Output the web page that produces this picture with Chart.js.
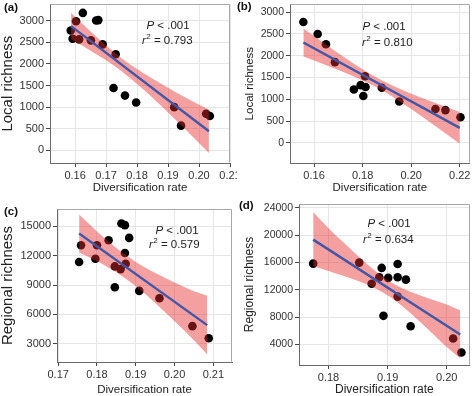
<!DOCTYPE html>
<html><head><meta charset="utf-8">
<script src="https://cdn.jsdelivr.net/npm/chart.js@4.4.0/dist/chart.umd.min.js"></script>
<style>
html,body{margin:0;padding:0;background:#fff;}
body{width:474px;height:396px;position:relative;overflow:hidden;}
.p{position:absolute;width:237px;height:198px;}
canvas{display:block;}
</style></head><body>
<div class="p" style="left:0;top:0"><canvas id="ca" width="237" height="198"></canvas></div>
<div class="p" style="left:237px;top:0"><canvas id="cb" width="237" height="198"></canvas></div>
<div class="p" style="left:0;top:198px"><canvas id="cc" width="237" height="198"></canvas></div>
<div class="p" style="left:237px;top:198px"><canvas id="cd" width="237" height="198"></canvas></div>
<script>
// ---------- Panel (a): local richness vs diversification rate ----------
const aRate   = [0.1625,0.1668,0.1675,0.1603,0.1586,0.1592,0.1613,0.1651,0.1689,0.1731,0.1724,0.1761,0.1797,0.1920,0.1942,0.2023,0.2035];
const aLocal  = [3176,3000,3010,2985,2771,2580,2565,2542,2450,2221,1443,1267,1107,1000,573,847,794];
const aFitRate = [0.1587,0.2032];
const aFitLocal = [2870,443];
const aBandRate  = [0.1587,0.165,0.17,0.175,0.18,0.185,0.19,0.195,0.2032];
const aBandUpper = [3175,2747,2425,2131,1879,1657,1450,1248,943];
const aBandLower = [2565,2305,2083,1831,1537,1215,876,532,-57];
const aXTicks = [0.16,0.17,0.18,0.19,0.20,0.21];
const aYTicks = [0,500,1000,1500,2000,2500,3000];

// ---------- Panel (b): local richness vs diversification rate ----------
const bRate   = [0.1556,0.1615,0.1649,0.1686,0.1764,0.1792,0.1812,0.1810,0.1803,0.1879,0.1951,0.2100,0.2141,0.2203];
const bLocal  = [2774,2500,2266,1854,1228,1326,1282,1531,1077,1267,950,777,754,588];
const bFitRate = [0.1556,0.2200];
const bFitLocal = [2306,345];
const bBandRate  = [0.1556,0.165,0.175,0.185,0.195,0.205,0.2200];
const bBandUpper = [2626,2255,1870,1523,1247,1020,710];
const bBandLower = [1986,1785,1560,1299,965,584,-20];
const bXTicks = [0.16,0.18,0.20,0.22];
const bYTicks = [0,500,1000,1500,2000,2500,3000];

// ---------- Panel (c): regional richness vs diversification rate ----------
const cRate     = [0.1754,0.1759,0.1796,0.1800,0.1830,0.1846,0.1846,0.1861,0.1863,0.1872,0.1872,0.1874,0.1883,0.1909,0.1961,0.2046,0.2088];
const cRegional = [11340,13050,11682,13050,13563,10895,8774,10621,15274,15103,12263,11169,13803,8398,7645,4806,3575];
const cFitRate = [0.1754,0.2084];
const cFitRegional = [14247,4909];
const cBandRate  = [0.1754,0.18,0.1825,0.185,0.1875,0.19,0.1925,0.195,0.2,0.205,0.2084];
const cBandUpper = [16177,14468,13591,12770,12023,11356,10761,10224,9256,8365,7909];
const cBandLower = [12317,11422,10885,10290,9623,8876,8055,7178,5316,3377,1909];
const cXTicks = [0.17,0.18,0.19,0.20,0.21];
const cYTicks = [3000,6000,9000,12000,15000];

// ---------- Panel (d): regional richness vs diversification rate ----------
const dRate     = [0.1774,0.1852,0.1873,0.1890,0.1886,0.1901,0.1917,0.1917,0.1931,0.1917,0.1893,0.1939,0.2011,0.2025];
const dRegional = [15854,16000,12900,15220,13850,13760,15800,13850,13500,11020,8200,6680,4880,2830];
const dFitRate = [0.1774,0.2023];
const dFitRegional = [19366,5463];
const dBandRate  = [0.1774,0.18,0.1825,0.185,0.1875,0.19,0.1925,0.195,0.1975,0.2,0.2023];
const dBandUpper = [23400,21041,18975,16953,15048,13431,12256,11369,10599,9874,9000];
const dBandLower = [15500,14787,14063,13293,12406,11231,9614,7709,5687,3620,2000];
const dXTicks = [0.18,0.19,0.20];
const dYTicks = [4000,8000,12000,16000,20000,24000];

// ---------- text ----------
const xTitle = 'Diversification rate';
const pText = ' < .001';
const panels = [
  {id:'ca', tag:'(a)', yTitle:'Local richness', r2:'0.793',
   x:aRate, y:aLocal, fx:aFitRate, fy:aFitLocal, bx:aBandRate, bu:aBandUpper, bl:aBandLower, xt:aXTicks, yt:aYTicks,
   xmin:0.1519, xmax:0.2100, ymin:-290, ymax:3375,
   area:{l:50,r:230,t:3,b:163}, tickFont:11, yTickFont:11, yTitleSize:15, yTitlePad:0.5, xTitleSize:11.5, xTitlePad:4,
   tagPos:[4,8], ann:[168,26,167,41]},
  {id:'cb', tag:'(b)', yTitle:'Local richness', r2:'0.810',
   x:bRate, y:bLocal, fx:bFitRate, fy:bFitLocal, bx:bBandRate, bu:bBandUpper, bl:bBandLower, xt:bXTicks, yt:bYTicks,
   xmin:0.1501, xmax:0.2241, ymin:-460, ymax:3181,
   area:{l:53,r:233,t:2,b:163}, tickFont:11, yTickFont:10.5, yTitleSize:11.5, yTitlePad:7.5, xTitleSize:11.5, xTitlePad:4,
   tagPos:[0,7], ann:[147,27,150,43]},
  {id:'cc', tag:'(c)', yTitle:'Regional richness', r2:'0.579',
   x:cRate, y:cRegional, fx:cFitRate, fy:cFitRegional, bx:cBandRate, bu:cBandUpper, bl:cBandLower, xt:cXTicks, yt:cYTicks,
   xmin:0.1697, xmax:0.2148, ymin:1150, ymax:16750,
   area:{l:57,r:232,t:11,b:164}, tickFont:11, yTickFont:11, yTitleSize:15, yTitlePad:0.5, xTitleSize:11.5, xTitlePad:0,
   tagPos:[4,14], ann:[177,33,174,47]},
  {id:'cd', tag:'(d)', yTitle:'Regional richness', r2:'0.634',
   x:dRate, y:dRegional, fx:dFitRate, fy:dFitRegional, bx:dBandRate, bu:dBandUpper, bl:dBandLower, xt:dXTicks, yt:dYTicks,
   xmin:0.1750, xmax:0.2039, ymin:996, ymax:24586,
   area:{l:62,r:233,t:6,b:167}, tickFont:11, yTickFont:10.5, yTitleSize:12, yTitlePad:7, xTitleSize:12, xTitlePad:0,
   tagPos:[2,8], ann:[152,26,151,42]}
];

const FONT = "'Liberation Sans', Arial, Helvetica, sans-serif";
const RIBBON = 'rgba(232,45,45,0.45)';
const FITLINE = '#4357A8';

function drawAnn(ctx, p) {
  const size = 11.5;
  const [px, py, rx, ry] = p.ann;
  ctx.save();
  ctx.fillStyle = '#222';
  ctx.textBaseline = 'middle';
  ctx.textAlign = 'left';
  ctx.font = 'italic ' + size + 'px ' + FONT;
  const wP = ctx.measureText('P').width;
  ctx.font = size + 'px ' + FONT;
  const wRest = ctx.measureText(pText).width;
  let x0 = px - (wP + wRest) / 2;
  ctx.font = 'italic ' + size + 'px ' + FONT;
  ctx.fillText('P', x0, py);
  ctx.font = size + 'px ' + FONT;
  ctx.fillText(pText, x0 + wP, py);
  ctx.font = 'italic ' + size + 'px ' + FONT;
  const wr = ctx.measureText('r').width;
  ctx.font = (size * 0.7) + 'px ' + FONT;
  const w2 = ctx.measureText('2').width;
  ctx.font = size + 'px ' + FONT;
  const rest = ' = ' + p.r2;
  const wv = ctx.measureText(rest).width;
  x0 = rx - (wr + w2 + wv) / 2;
  ctx.font = 'italic ' + size + 'px ' + FONT;
  ctx.fillText('r', x0, ry);
  ctx.font = (size * 0.7) + 'px ' + FONT;
  ctx.fillText('2', x0 + wr + 0.5, ry - 4.5);
  ctx.font = size + 'px ' + FONT;
  ctx.fillText(rest, x0 + wr + w2 + 0.5, ry);
  ctx.font = 'bold 11.5px ' + FONT;
  ctx.fillStyle = '#111';
  ctx.fillText(p.tag, p.tagPos[0], p.tagPos[1]);
  ctx.restore();
}

function makeChart(p) {
  const W = 237, H = 198;
  const pts = p.x.map((v, i) => ({x: v, y: p.y[i]}));
  const up = p.bx.map((v, i) => ({x: v, y: p.bu[i]}));
  const lo = p.bx.map((v, i) => ({x: v, y: p.bl[i]}));
  const fit = p.fx.map((v, i) => ({x: v, y: p.fy[i]}));
  const zeroPad = s => { s.paddingLeft = 0; s.paddingRight = 0; s.paddingTop = 0; s.paddingBottom = 0; };
  const frame = {
    id: 'frame',
    afterDraw(chart) {
      const ctx = chart.ctx, a = chart.chartArea;
      ctx.save();
      ctx.strokeStyle = '#A8A8A8';
      ctx.lineWidth = 1;
      ctx.beginPath();
      const L = Math.round(a.left) + 0.5, R = Math.round(a.right) - 0.5, T = Math.round(a.top) + 0.5, B = Math.round(a.bottom) - 0.5;
      ctx.moveTo(L, T); ctx.lineTo(R, T); ctx.lineTo(R, B);
      ctx.stroke();
      ctx.restore();
      drawAnn(ctx, p);
    }
  };
  return new Chart(document.getElementById(p.id), {
    type: 'line',
    data: {
      datasets: [
        {data: pts, showLine: false, pointRadius: 4.3, pointBackgroundColor: '#000', pointBorderWidth: 0, pointBorderColor: '#000', order: 3},
        {data: up, pointRadius: 0, borderWidth: 0, borderColor: 'rgba(0,0,0,0)', backgroundColor: RIBBON, fill: '+1', cubicInterpolationMode: 'monotone', order: 2},
        {data: lo, pointRadius: 0, borderWidth: 0, borderColor: 'rgba(0,0,0,0)', fill: false, cubicInterpolationMode: 'monotone', order: 2},
        {data: fit, pointRadius: 0, borderWidth: 2.4, borderColor: FITLINE, fill: false, order: 1}
      ]
    },
    options: {
      responsive: false,
      animation: false,
      devicePixelRatio: 1,
      events: [],
      layout: {padding: {left: 0, right: W - p.area.r, top: p.area.t, bottom: 0}},
      plugins: {legend: {display: false}, tooltip: {enabled: false}, filler: {drawTime: 'beforeDatasetDraw'}},
      scales: {
        x: {
          type: 'linear', min: p.xmin, max: p.xmax,
          grid: {color: '#E6E6E6', tickColor: '#444', tickLength: 4, lineWidth: 1},
          border: {color: '#6A6A6A', width: 1},
          ticks: {autoSkip: false, maxRotation: 0, padding: 2, color: '#333',
                  font: {family: FONT, size: p.tickFont}, callback: v => v.toFixed(2)},
          afterBuildTicks: s => { s.ticks = p.xt.map(v => ({value: v})); },
          title: {display: true, text: xTitle, color: '#222', font: {family: FONT, size: p.xTitleSize, lineHeight: 1},
                  padding: {top: 0, bottom: p.xTitlePad}},
          afterFit: s => { s.height = H - p.area.b; zeroPad(s); }
        },
        y: {
          type: 'linear', min: p.ymin, max: p.ymax,
          grid: {color: '#E6E6E6', tickColor: '#444', tickLength: 4, lineWidth: 1},
          border: {color: '#6A6A6A', width: 1},
          ticks: {autoSkip: false, padding: 2, color: '#333',
                  font: {family: FONT, size: p.yTickFont}, callback: v => String(v)},
          afterBuildTicks: s => { s.ticks = p.yt.map(v => ({value: v})); },
          title: {display: true, text: p.yTitle, color: '#222', font: {family: FONT, size: p.yTitleSize, lineHeight: 1},
                  padding: {top: p.yTitlePad, bottom: 0}},
          afterFit: s => { s.width = p.area.l; zeroPad(s); }
        }
      }
    },
    plugins: [frame]
  });
}
panels.forEach(makeChart);
</script>
</body></html>
